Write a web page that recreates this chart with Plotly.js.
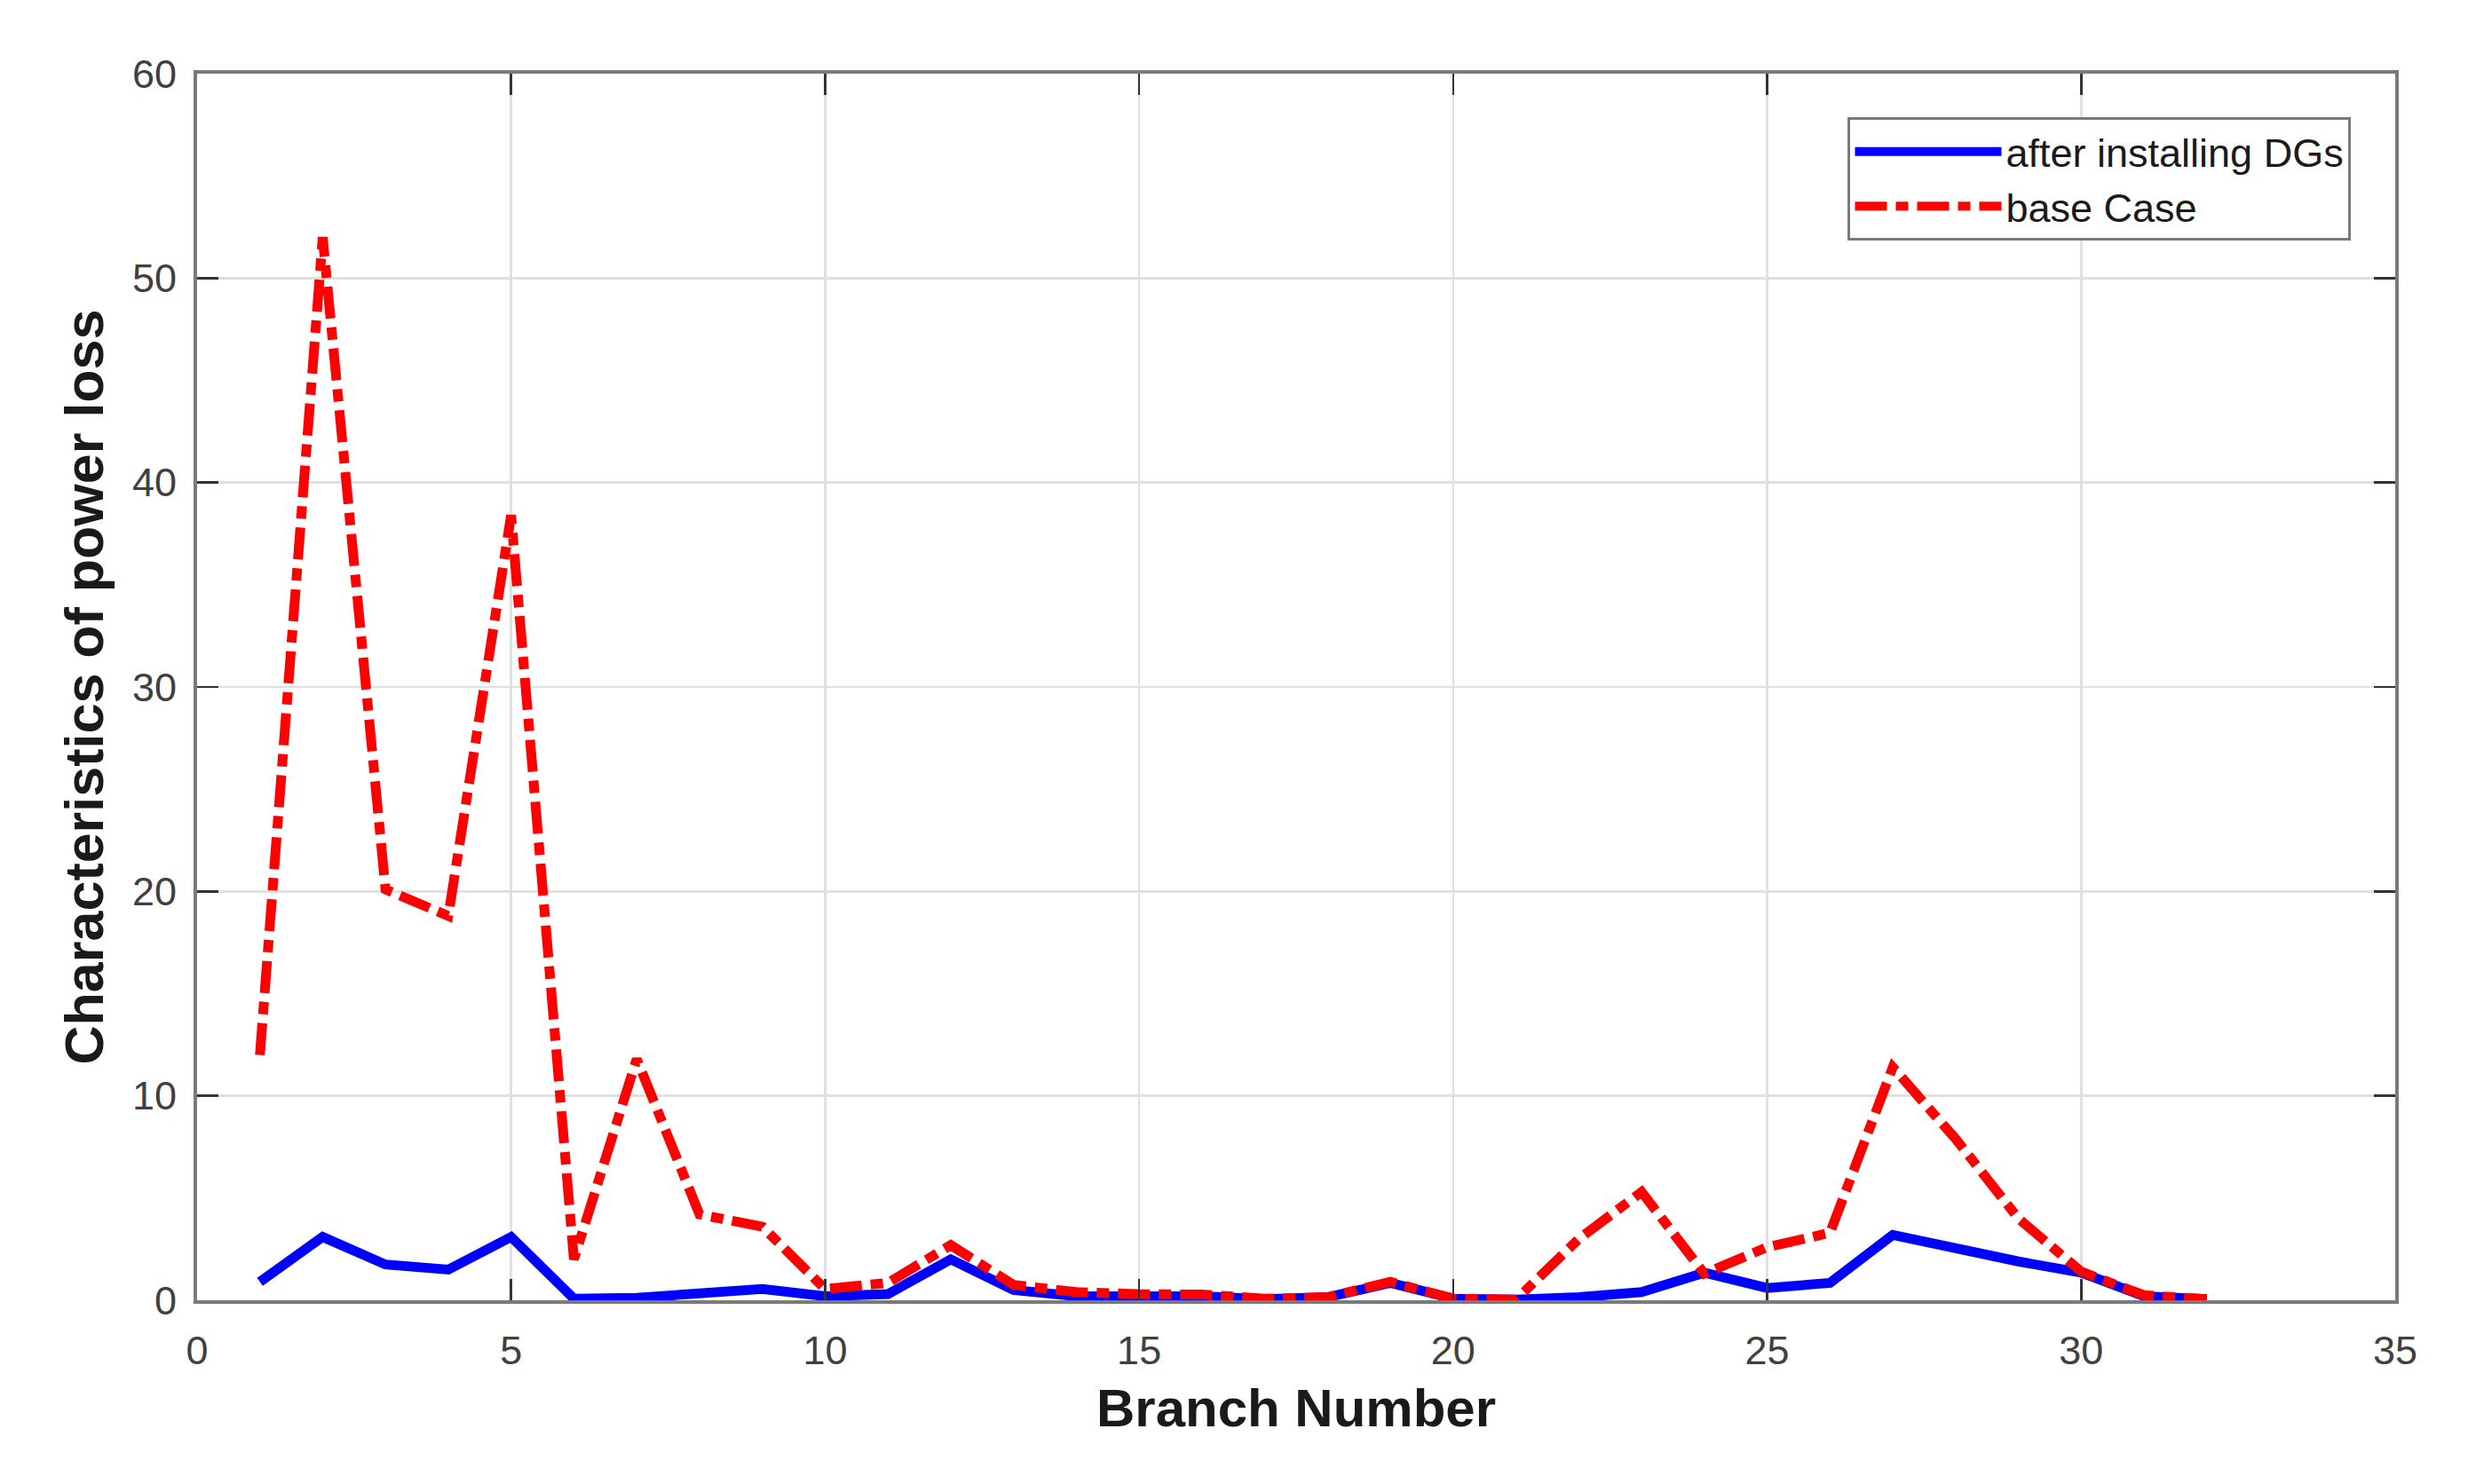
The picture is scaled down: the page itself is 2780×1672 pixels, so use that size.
<!DOCTYPE html>
<html>
<head>
<meta charset="utf-8">
<script src="https://cdn.plot.ly/plotly-3.0.1.min.js"></script>
<style>html,body{margin:0;padding:0;background:#fff;}#chart{width:2780px;height:1672px;}</style>
</head>
<body>
<div id="chart"></div>
<script>
const branches = [1,2,3,4,5,6,7,8,9,10,11,12,13,14,15,16,17,18,19,20,21,22,23,24,25,26,27,28,29,30,31,32];
const afterDGs = [0.9,3.1,1.75,1.5,3.1,0.08,0.12,0.3,0.55,0.2,0.3,2.0,0.5,0.2,0.2,0.2,0.05,0.15,0.85,0.08,0.03,0.15,0.4,1.35,0.6,0.85,3.2,2.5,1.9,1.35,0.2,0.05];
const baseCase = [12.0,52.0,20.1,18.8,38.4,2.0,11.8,4.2,3.6,0.55,0.85,2.7,0.75,0.4,0.3,0.28,0.08,0.15,0.9,0.08,0.03,3.0,5.3,1.3,2.6,3.3,11.4,7.9,4.0,1.4,0.25,0.05];
const seriesNames = ['after installing DGs', 'base Case'];
const xTicks = [0,5,10,15,20,25,30,35];
const yTicks = [0,10,20,30,40,50,60];

const FONT = 'Liberation Sans, Arial, Helvetica, sans-serif';

const traces = [
  {x: branches, y: afterDGs, name: seriesNames[0], type: 'scatter', mode: 'lines',
   line: {color: '#0000ff', width: 11}},
  {x: branches, y: baseCase, name: seriesNames[1], type: 'scatter', mode: 'lines',
   line: {color: '#ff0000', width: 11, dash: '36px,10px,14px,10px'}}
];

const axisCommon = {
  showline: true, linecolor: '#7a7a7a', linewidth: 4, mirror: 'ticks',
  ticks: 'inside', ticklen: 24, tickwidth: 2.5, tickcolor: '#333333',
  showgrid: true, gridcolor: '#e0e0e0', gridwidth: 2.5, zeroline: false,
  tickfont: {family: FONT, size: 45, color: '#404040'}
};

const layout = {
  width: 2780, height: 1672,
  paper_bgcolor: '#ffffff', plot_bgcolor: '#ffffff',
  margin: {l: 222, r: 82, t: 83, b: 207},
  showlegend: true,
  legend: {
    x: 0.980, y: 0.9646, xanchor: 'right', yanchor: 'top',
    bgcolor: '#ffffff', bordercolor: '#7a7a7a', borderwidth: 3,
    font: {family: FONT, size: 45, color: '#1a1a1a'},
    itemwidth: 165, tracegroupgap: 0
  },
  xaxis: Object.assign({}, axisCommon, {
    range: [0, 35], tickvals: xTicks, ticktext: xTicks.map(String),
    ticklabelstandoff: 14,
    title: {text: '<b>Branch Number</b>', font: {family: FONT, size: 60, color: '#1a1a1a'}, standoff: 20}
  }),
  yaxis: Object.assign({}, axisCommon, {
    range: [0, 60], tickvals: yTicks, ticktext: yTicks.map(String),
    ticklabelstandoff: 10,
    title: {text: '<b>Characteristics of power loss</b>', font: {family: FONT, size: 61, color: '#1a1a1a'}, standoff: 14}
  })
};

Plotly.newPlot('chart', traces, layout, {displayModeBar: false, staticPlot: true});
</script>
</body>
</html>
